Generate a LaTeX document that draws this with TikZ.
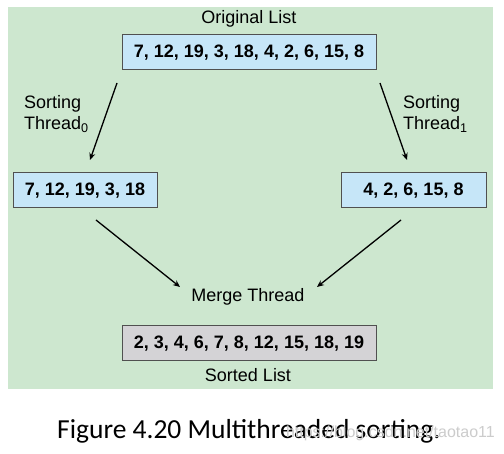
\documentclass[tikz,border=0pt]{standalone}
\usepackage{fontspec}
\setmainfont{Liberation Sans}
\newfontfamily\capfont{Carlito}
\usetikzlibrary{arrows.meta}
\definecolor{bggreen}{HTML}{CDE7CF}
\definecolor{boxblue}{HTML}{C6E6F8}
\definecolor{boxgray}{HTML}{D4D3D6}
\definecolor{edgegray}{HTML}{505050}
\tikzset{
  listbox/.style={draw=edgegray, line width=1pt, inner sep=0pt, font=\fontsize{18}{20}\selectfont\bfseries},
  lbl/.style={inner sep=0pt, font=\fontsize{18}{21}\selectfont},
  arr/.style={line width=1.3pt, -{Stealth[length=7pt,width=6pt]}}
}
\begin{document}
\begin{tikzpicture}[x=1pt,y=-1pt]
\useasboundingbox (0,0) rectangle (504,454);
\fill[white] (0,0) rectangle (504,454);
\fill[bggreen] (8,7) rectangle (493,389);
\node[lbl] (orig) at (249,19) {Original List};
\node[listbox, fill=boxblue, minimum width=254pt, minimum height=35pt] (top) at (249,52.5) {7, 12, 19, 3, 18, 4, 2, 6, 15, 8};
\node[listbox, fill=boxblue, minimum width=144pt, minimum height=35pt] (left) at (85,190.5) {7, 12, 19, 3, 18};
\node[listbox, fill=boxblue, minimum width=145pt, minimum height=35pt] (right) at (413.5,190.5) {4, 2, 6, 15, 8};
\node[lbl, align=left, anchor=west] (st0) at (24,114) {Sorting\\Thread\textsubscript{0}};
\node[lbl, align=left, anchor=west] (st1) at (403,114) {Sorting\\Thread\textsubscript{1}};
\node[lbl] (merge) at (248,297) {Merge Thread};
\node[listbox, fill=boxgray, minimum width=254pt, minimum height=35pt] (sorted) at (249,343.5) {2, 3, 4, 6, 7, 8, 12, 15, 18, 19};
\node[lbl] (slist) at (248,375) {Sorted List};
\coordinate (a1s) at (117,83);
\coordinate (a1e) at (90,160);
\coordinate (a2s) at (380,83);
\coordinate (a2e) at (407,160);
\coordinate (m1s) at (96,220);
\coordinate (m1e) at (180,287);
\coordinate (m2s) at (401,220);
\coordinate (m2e) at (317,287);
\draw[arr] (a1s) -- (a1e);
\draw[arr] (a2s) -- (a2e);
\draw[arr] (m1s) -- (m1e);
\draw[arr] (m2s) -- (m2e);
\node[inner sep=0pt, anchor=base west, font=\capfont\fontsize{27.5}{32}\selectfont] (cap) at (57,439) {Figure 4.20 Multithreaded sorting.};
\node[inner sep=0pt, anchor=base east, text=black!20, font=\fontsize{16}{18}\selectfont] (wm) at (495,438) {https://blog.csdn.net/taotao11};
\end{tikzpicture}
\end{document}
